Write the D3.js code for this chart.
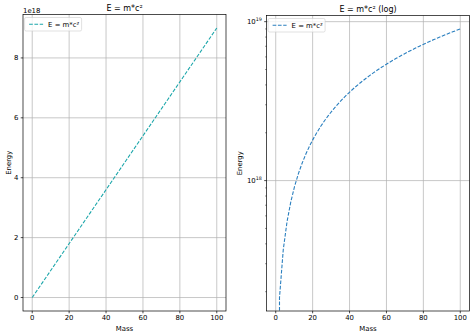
<!DOCTYPE html>
<html>
<head>
<meta charset="utf-8">
<script src="https://cdn.jsdelivr.net/npm/d3@7"></script>
<style>
  body { margin: 0; background: #fff; }
  text { font-family: "DejaVu Sans", sans-serif; fill: #000; }
</style>
</head>
<body>
<div id="chart"></div>
<script>
// data: mass (50 evenly spaced samples) and energy E = m*c^2
var mass = [0, 2.041, 4.082, 6.122, 8.163, 10.204, 12.245, 14.286, 16.327, 18.367,
  20.408, 22.449, 24.490, 26.531, 28.571, 30.612, 32.653, 34.694, 36.735, 38.776,
  40.816, 42.857, 44.898, 46.939, 48.980, 51.020, 53.061, 55.102, 57.143, 59.184,
  61.224, 63.265, 65.306, 67.347, 69.388, 71.429, 73.469, 75.510, 77.551, 79.592,
  81.633, 83.673, 85.714, 87.755, 89.796, 91.837, 93.878, 95.918, 97.959, 100];
var energy = [0, 0.1837e18, 0.3673e18, 0.5510e18, 0.7347e18, 0.9184e18, 1.1020e18, 1.2857e18, 1.4694e18, 1.6531e18,
  1.8367e18, 2.0204e18, 2.2041e18, 2.3878e18, 2.5714e18, 2.7551e18, 2.9388e18, 3.1224e18, 3.3061e18, 3.4898e18,
  3.6735e18, 3.8571e18, 4.0408e18, 4.2245e18, 4.4082e18, 4.5918e18, 4.7755e18, 4.9592e18, 5.1429e18, 5.3265e18,
  5.5102e18, 5.6939e18, 5.8776e18, 6.0612e18, 6.2449e18, 6.4286e18, 6.6122e18, 6.7959e18, 6.9796e18, 7.1633e18,
  7.3469e18, 7.5306e18, 7.7143e18, 7.8980e18, 8.0816e18, 8.2653e18, 8.4490e18, 8.6327e18, 8.8163e18, 9.0e18];

var xTicks = [0, 20, 40, 60, 80, 100];
var linTicks = [0, 2e18, 4e18, 6e18, 8e18];
var linTickLabels = ["0", "2", "4", "6", "8"];
var logTicks = [1e18, 1e19];
var logTickExp = ["18", "19"];
var logMinorTicks = [2e17, 3e17, 4e17, 5e17, 6e17, 7e17, 8e17, 9e17,
  2e18, 3e18, 4e18, 5e18, 6e18, 7e18, 8e18, 9e18];
var seriesName = "E = m*c²";

var svgWidth = 474;
var svgHeight = 336;
var fs = 6.9;        // tick / label font size
var titleFs = 8;
var tickLen = 2.3;
var gridColor = "#b0b0b0";

var svg = d3.select("#chart")
  .append("svg")
  .attr("width", svgWidth)
  .attr("height", svgHeight);

svg.append("rect").attr("width", svgWidth).attr("height", svgHeight).attr("fill", "#fff");

// matplotlib style 5% margins
function padLin(ext) {
  var d = ext[1] - ext[0];
  return [ext[0] - 0.05 * d, ext[1] + 0.05 * d];
}
function padLog(vals) {
  var pos = vals.filter(v => v > 0);
  var lo = Math.log10(d3.min(pos)), hi = Math.log10(d3.max(pos));
  var d = hi - lo;
  return [Math.pow(10, lo - 0.05 * d), Math.pow(10, hi + 0.05 * d)];
}

function drawPanel(box, yScale, opts) {
  var g = svg.append("g");
  var x = d3.scaleLinear().domain(padLin(d3.extent(mass))).range([box.left, box.right]);

  // grid
  g.selectAll(".xgrid").data(xTicks).enter().append("line")
    .attr("x1", d => x(d)).attr("x2", d => x(d))
    .attr("y1", box.top).attr("y2", box.bottom)
    .attr("stroke", gridColor).attr("stroke-width", 0.7);
  g.selectAll(".ygrid").data(opts.yTicks).enter().append("line")
    .attr("x1", box.left).attr("x2", box.right)
    .attr("y1", d => yScale(d)).attr("y2", d => yScale(d))
    .attr("stroke", gridColor).attr("stroke-width", 0.7);

  // line, clipped to the axes
  var clipId = "clip" + opts.id;
  svg.append("clipPath").attr("id", clipId)
    .append("rect")
    .attr("x", box.left).attr("y", box.top)
    .attr("width", box.right - box.left).attr("height", box.bottom - box.top);

  var pts = mass.map((m, i) => [m, energy[i]]);
  var line = d3.line()
    .x(d => x(d[0]))
    .y(d => opts.log && d[1] <= 0 ? box.bottom + 100000 : yScale(d[1]));

  g.append("path")
    .datum(pts)
    .attr("clip-path", "url(#" + clipId + ")")
    .attr("d", line)
    .attr("fill", "none")
    .attr("stroke", opts.color)
    .attr("stroke-width", 1.1)
    .attr("stroke-dasharray", "3.7,1.6");

  // frame
  g.append("rect")
    .attr("x", box.left).attr("y", box.top)
    .attr("width", box.right - box.left).attr("height", box.bottom - box.top)
    .attr("fill", "none").attr("stroke", "#000").attr("stroke-width", 0.7);

  // x ticks
  g.selectAll(".xt").data(xTicks).enter().append("line")
    .attr("x1", d => x(d)).attr("x2", d => x(d))
    .attr("y1", box.bottom).attr("y2", box.bottom + tickLen)
    .attr("stroke", "#000").attr("stroke-width", 0.7);
  g.selectAll(".xl").data(xTicks).enter().append("text")
    .attr("x", d => x(d)).attr("y", box.bottom + 9.4)
    .attr("text-anchor", "middle").attr("font-size", fs)
    .text(d => d);

  // y ticks
  g.selectAll(".yt").data(opts.yTicks).enter().append("line")
    .attr("x1", box.left - tickLen).attr("x2", box.left)
    .attr("y1", d => yScale(d)).attr("y2", d => yScale(d))
    .attr("stroke", "#000").attr("stroke-width", 0.7);
  if (opts.minor) {
    g.selectAll(".ym").data(opts.minor).enter().append("line")
      .attr("x1", box.left - 1.3).attr("x2", box.left)
      .attr("y1", d => yScale(d)).attr("y2", d => yScale(d))
      .attr("stroke", "#000").attr("stroke-width", 0.5);
  }
  var yl = g.selectAll(".yl").data(opts.yTicks).enter().append("text")
    .attr("x", box.left - tickLen - 2.3)
    .attr("y", d => yScale(d))
    .attr("dy", "0.35em")
    .attr("text-anchor", "end")
    .attr("font-size", fs);
  if (opts.log) {
    yl.each(function(d, i) {
      var t = d3.select(this);
      t.append("tspan").text("10");
      t.append("tspan").attr("font-size", fs * 0.7).attr("dy", "-0.55em").text(opts.yExp[i]);
    });
  } else {
    yl.text((d, i) => opts.yLabels[i]);
  }

  // offset text
  if (opts.offset) {
    g.append("text").attr("x", box.left).attr("y", box.top - 1.8)
      .attr("font-size", fs).text(opts.offset);
  }

  // title
  g.append("text")
    .attr("x", (box.left + box.right) / 2).attr("y", box.top - 4)
    .attr("text-anchor", "middle").attr("font-size", titleFs)
    .text(opts.title);

  // axis labels
  g.append("text")
    .attr("x", (box.left + box.right) / 2).attr("y", 330.5)
    .attr("text-anchor", "middle").attr("font-size", fs)
    .text("Mass");
  g.append("text")
    .attr("transform", `translate(${opts.ylabelX}, ${(box.top + box.bottom) / 2}) rotate(-90)`)
    .attr("text-anchor", "middle").attr("font-size", fs)
    .text("Energy");

  // legend
  var lx = box.left + 1.6, ly = box.top + 3;
  g.append("rect")
    .attr("x", lx).attr("y", ly).attr("width", 57).attr("height", 13.5)
    .attr("rx", 1.5)
    .attr("fill", "#fff").attr("fill-opacity", 0.8)
    .attr("stroke", "#cccccc").attr("stroke-width", 0.6);
  g.append("line")
    .attr("x1", lx + 4.5).attr("x2", lx + 18.5)
    .attr("y1", ly + 6.8).attr("y2", ly + 6.8)
    .attr("stroke", opts.color).attr("stroke-width", 1.1)
    .attr("stroke-dasharray", "3.7,1.6");
  g.append("text")
    .attr("x", lx + 23.5).attr("y", ly + 9.4)
    .attr("font-size", fs)
    .text(seriesName);
}

// left: linear scale
var boxL = {left: 23, right: 226, top: 14.5, bottom: 311};
var yLin = d3.scaleLinear().domain(padLin(d3.extent(energy))).range([boxL.bottom, boxL.top]);
drawPanel(boxL, yLin, {
  id: "L", color: "#1ba6aa", yTicks: linTicks, yLabels: linTickLabels,
  offset: "1e18", title: "E = m*c²", ylabelX: 10.8
});

// right: log scale
var boxR = {left: 266.5, right: 469.5, top: 15.5, bottom: 311};
var yLog = d3.scaleLog().domain(padLog(energy)).range([boxR.bottom, boxR.top]);
drawPanel(boxR, yLog, {
  id: "R", color: "#2a7fbf", log: true, yTicks: logTicks, yExp: logTickExp,
  minor: logMinorTicks, title: "E = m*c² (log)", ylabelX: 242
});
</script>
</body>
</html>
